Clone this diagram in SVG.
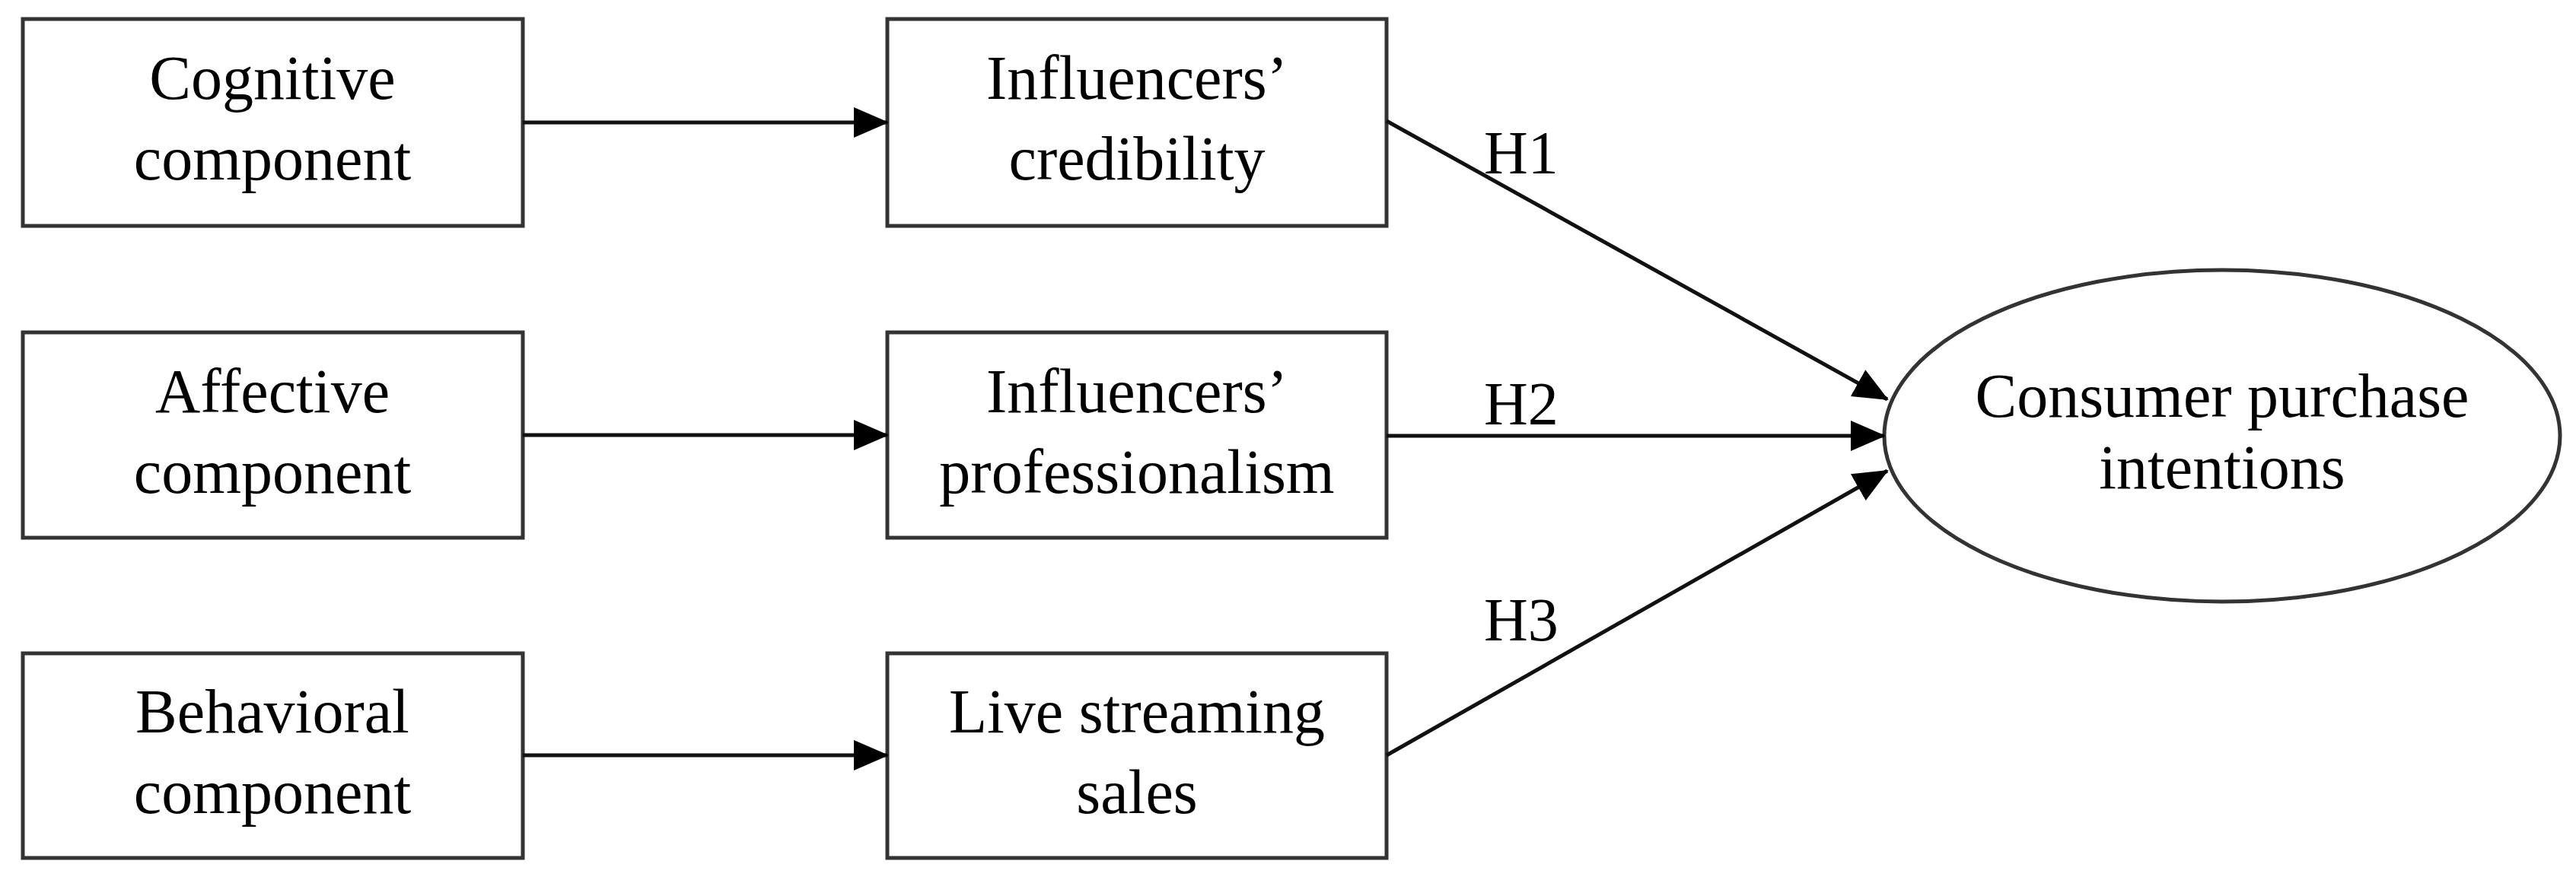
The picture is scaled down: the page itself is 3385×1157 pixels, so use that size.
<svg xmlns="http://www.w3.org/2000/svg" width="3385" height="1157" viewBox="0 0 3385 1157">
<style>
.b{fill:#fff;stroke:#333;stroke-width:5}
.t{font-family:"Liberation Serif",serif;font-size:82px;fill:#000;text-anchor:middle}
.c{stroke:#111;stroke-width:5;fill:none;marker-end:url(#a)}
.h{font-family:"Liberation Serif",serif;font-size:80px;fill:#000}
</style>
<defs><marker id="a" markerUnits="userSpaceOnUse" markerWidth="46" markerHeight="40" refX="44" refY="20" orient="auto"><path d="M0,0 L46,20 L0,40 Z" fill="#000"/></marker></defs>
<rect width="3385" height="1157" fill="#fff"/>
<g id="cognitive"><rect class="b" x="30" y="25" width="657" height="272"/><text class="t" x="358" y="130">Cognitive</text><text class="t" x="358" y="236">component</text></g>
<g id="affective"><rect class="b" x="30" y="437" width="657" height="270"/><text class="t" x="358" y="542">Affective</text><text class="t" x="358" y="648">component</text></g>
<g id="behavioral"><rect class="b" x="30" y="859" width="657" height="269"/><text class="t" x="358" y="963">Behavioral</text><text class="t" x="358" y="1069">component</text></g>
<g id="credibility"><rect class="b" x="1166" y="25" width="656" height="272"/><text class="t" x="1494" y="130">Influencers’</text><text class="t" x="1494" y="236">credibility</text></g>
<g id="professionalism"><rect class="b" x="1166" y="437" width="656" height="270"/><text class="t" x="1494" y="542">Influencers’</text><text class="t" x="1494" y="648">professionalism</text></g>
<g id="live"><rect class="b" x="1166" y="859" width="656" height="269"/><text class="t" x="1494" y="963">Live streaming</text><text class="t" x="1494" y="1069">sales</text></g>
<g id="intentions"><ellipse class="b" cx="2920" cy="573" rx="444" ry="218"/><text class="t" x="2920" y="548">Consumer purchase</text><text class="t" x="2920" y="642">intentions</text></g>
<g id="connectors">
<line class="c" x1="687" y1="161" x2="1166" y2="161"/>
<line class="c" x1="687" y1="572" x2="1166" y2="572"/>
<line class="c" x1="687" y1="993" x2="1166" y2="993"/>
<line class="c" x1="1822" y1="159" x2="2480" y2="525"/>
<line class="c" x1="1822" y1="573" x2="2476" y2="573"/>
<line class="c" x1="1822" y1="993" x2="2480" y2="619"/>
<text class="h" x="1950" y="228">H1</text>
<text class="h" x="1950" y="558">H2</text>
<text class="h" x="1950" y="842">H3</text>
</g>
</svg>
